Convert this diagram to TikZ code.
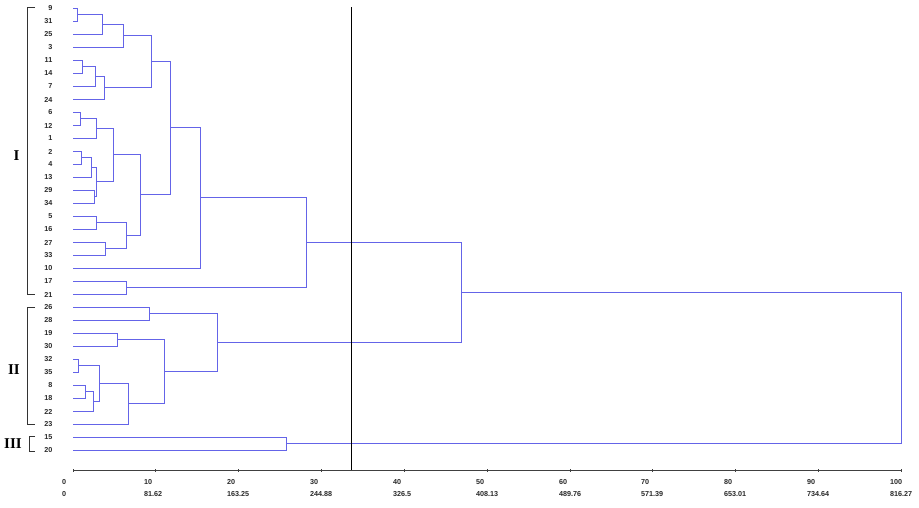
\documentclass[tikz,border=0pt]{standalone}
\usepackage{fontspec}
\setmainfont{Liberation Sans}
\newfontfamily\romanfont{Liberation Serif}
\usetikzlibrary{calc}
\definecolor{dendro}{RGB}{100,100,232}
\definecolor{labgray}{RGB}{40,40,40}
\newdimen\dmy
\newcommand\dmerge[4]{%
  \path ($(#3)!0.5!(#4)$) coordinate (#1tmp);
  \pgfextracty{\dmy}{\pgfpointanchor{#1tmp}{center}}%
  \pgfmathsetmacro\dmerY{floor(\dmy)+0.5}%
  \coordinate (#1) at (#2pt,\dmerY pt);
  \draw[dlink] (#3) -| (#1) |- (#4);
}
\tikzset{
  dlink/.style={draw=dendro, line width=1.5pt},
  leaflab/.style={anchor=east, inner sep=0pt, font=\fontsize{7.2}{7.5}\selectfont\bfseries, text=labgray},
  axlab/.style={anchor=west, inner sep=0pt, font=\fontsize{7.2}{7.5}\selectfont\bfseries, text=labgray},
  grouplab/.style={inner sep=0pt, font=\fontsize{15}{15}\selectfont\romanfont\bfseries},
  bracketline/.style={draw=black!80, line width=0.9pt},
  axisline/.style={draw=black!75, line width=1pt},
  cutline/.style={draw=black, line width=1pt}
}
\begin{document}
\begin{tikzpicture}[x=1pt,y=-1pt]
\useasboundingbox[fill=white] (0,0) rectangle (919,507);
% leaves
\foreach \n [count=\i from 0] in {9,31,25,3,11,14,7,24,6,12,1,2,4,13,29,34,5,16,27,33,10,17,21,26,28,19,30,32,35,8,18,22,23,15,20}{
  \coordinate (l\n) at (73,8.5+13*\i);
  \node[leaflab] (t\n) at (52.5,8.5+13*\i) {\n};
}
% merges: name, height (x), child1, child2
\dmerge{m1}{77.5}{l9}{l31}
\dmerge{m2}{102.5}{m1}{l25}
\dmerge{m3}{123.5}{m2}{l3}
\dmerge{m4}{82.5}{l11}{l14}
\dmerge{m5}{95.5}{m4}{l7}
\dmerge{m6}{104.5}{m5}{l24}
\dmerge{m7}{151.5}{m3}{m6}
\dmerge{m8}{80.5}{l6}{l12}
\dmerge{m9}{96.5}{m8}{l1}
\dmerge{m10}{81.5}{l2}{l4}
\dmerge{m11}{91.5}{m10}{l13}
\dmerge{m12}{94.5}{l29}{l34}
\dmerge{m13}{96.5}{m11}{m12}
\dmerge{m14}{113.5}{m9}{m13}
\dmerge{m15}{96.5}{l5}{l16}
\dmerge{m16}{105.5}{l27}{l33}
\dmerge{m17}{126.5}{m15}{m16}
\dmerge{m18}{140.5}{m14}{m17}
\dmerge{m19}{170.5}{m7}{m18}
\dmerge{m20}{200.5}{m19}{l10}
\dmerge{m21}{126.5}{l17}{l21}
\dmerge{m22}{306.5}{m20}{m21}
\dmerge{m23}{149.5}{l26}{l28}
\dmerge{m24}{117.5}{l19}{l30}
\dmerge{m25}{78.5}{l32}{l35}
\dmerge{m26}{85.5}{l8}{l18}
\dmerge{m27}{93.5}{m26}{l22}
\dmerge{m28}{99.5}{m25}{m27}
\dmerge{m29}{128.5}{m28}{l23}
\dmerge{m30}{164.5}{m24}{m29}
\dmerge{m31}{217.5}{m23}{m30}
\dmerge{m32}{461.5}{m22}{m31}
\dmerge{m33}{286.5}{l15}{l20}
\dmerge{m34}{901.5}{m32}{m33}
% cut line
\coordinate (cutTop) at (351.5,7);
\coordinate (cutBot) at (351.5,470.5);
\draw[cutline] (cutTop) -- (cutBot);
% axis
\coordinate (ax0) at (73,470.5);
\coordinate (ax100) at (902,470.5);
\draw[axisline] (ax0) -- (ax100);
\foreach \v/\s [count=\i from 0] in {0/0,10/81.62,20/163.25,30/244.88,40/326.5,50/408.13,60/489.76,70/571.39,80/653.01,90/734.64,100/816.27}{
  \pgfmathsetmacro\xx{floor(73+8.285*\v)+0.5}
  \draw[axisline] (\xx,469) -- (\xx,472);
  \node[axlab] (a\i) at (\xx-11.5,482) {\v};
  \node[axlab] (b\i) at (\xx-11.5,494.5) {\s};
}
% group brackets
\draw[bracketline] (35,7.5) -- (27.5,7.5) -- (27.5,294.5) -- (35,294.5);
\draw[bracketline] (35,307.5) -- (27.5,307.5) -- (27.5,424.5) -- (35,424.5);
\draw[bracketline] (35,436.5) -- (29.5,436.5) -- (29.5,451.5) -- (35,451.5);
\node[grouplab] (gI) at (16.5,155.5) {I};
\node[grouplab] (gII) at (14,369.5) {II};
\node[grouplab] (gIII) at (13,444) {III};
\end{tikzpicture}
\end{document}
